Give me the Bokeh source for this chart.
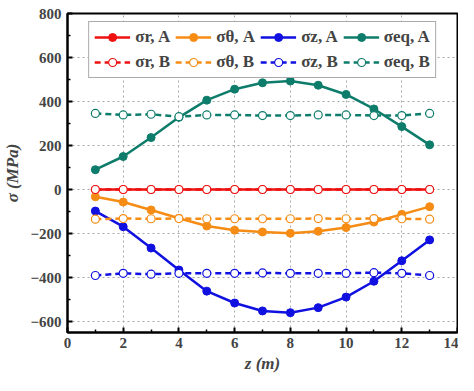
from bokeh.plotting import figure
from bokeh.models import Legend, LegendItem, FixedTicker, Range1d
from bokeh.embed import file_html
from bokeh.resources import INLINE

z = [1, 2, 3, 4, 5, 6, 7, 8, 9, 10, 11, 12, 13]
sr_A = [0, 0, 0, 0, 0, 0, 0, 0, 0, 0, 0, 0, 0]
st_A = [-33, -57, -93, -131, -166, -185, -193, -199, -190, -173, -148, -113, -78]
sz_A = [-98, -169, -266, -366, -462, -516, -552, -560, -537, -489, -417, -324, -229]
seq_A = [90, 150, 236, 328, 406, 456, 485, 493, 474, 432, 366, 286, 203]
sr_B = [0, 0, 0, 0, 0, 0, 0, 0, 0, 0, 0, 0, 0]
st_B = [-135, -132, -133, -132, -133, -133, -133, -133, -132, -133, -132, -133, -135]
sz_B = [-391, -381, -385, -381, -381, -381, -379, -381, -381, -381, -378, -381, -391]
seq_B = [346, 339, 342, 331, 339, 339, 336, 336, 339, 339, 336, 336, 346]

x_ticks = [0, 2, 4, 6, 8, 10, 12, 14]
y_ticks = [-600, -400, -200, 0, 200, 400, 600, 800]

colors = {"r": "#ee1111", "t": "#f68c14", "z": "#1010e0", "eq": "#0e7c6b"}
FONT = "Liberation Serif"

p = figure(width=458, height=375, x_range=Range1d(0, 14), y_range=Range1d(-650, 800),
           output_backend="svg", toolbar_location=None,
           min_border_left=56, min_border_right=1, min_border_top=13, min_border_bottom=40)

p.outline_line_color = "black"
p.outline_line_width = 2
p.background_fill_color = "white"
p.border_fill_color = "white"

for ax, ticks in ((p.xaxis[0], x_ticks), (p.yaxis[0], y_ticks)):
    ax.ticker = FixedTicker(ticks=ticks, minor_ticks=[t + (ticks[1] - ticks[0]) / 2 for t in ticks[:-1]])
    ax.axis_line_width = 2
    ax.axis_line_color = "black"
    ax.major_tick_in = 5
    ax.major_tick_out = 0
    ax.minor_tick_in = 3
    ax.minor_tick_out = 0
    ax.major_tick_line_width = 2
    ax.minor_tick_line_width = 1.5
    ax.major_label_text_font = FONT
    ax.major_label_text_font_style = "bold"
    ax.major_label_text_font_size = "15px"
    ax.axis_label_text_font = FONT
    ax.axis_label_text_font_size = "17px"
    ax.axis_label_text_font_style = "bold italic"

p.xaxis[0].axis_label = "z (m)"
p.yaxis[0].axis_label = "σ (MPa)"
p.xaxis[0].major_label_standoff = 5
p.xaxis[0].axis_label_standoff = 3
p.yaxis[0].major_label_standoff = 6
p.yaxis[0].axis_label_standoff = 5

p.xgrid.ticker = FixedTicker(ticks=x_ticks)
p.ygrid.ticker = FixedTicker(ticks=y_ticks)
for g in (p.xgrid[0], p.ygrid[0]):
    g.grid_line_color = "#a8a8a8"
    g.grid_line_dash = "2 3"
    g.grid_line_width = 1

series = [("r", "σr", sr_A, sr_B), ("t", "σθ", st_A, st_B), ("z", "σz", sz_A, sz_B), ("eq", "σeq", seq_A, seq_B)]
itemsA, itemsB = [], []
for key, lab, a, b in series:
    c = colors[key]
    la = p.line(z, a, line_color=c, line_width=2.5)
    ma = p.scatter(z, a, size=8, marker="circle", fill_color=c, line_color=c)
    itemsA.append(LegendItem(label=f"{lab}, A", renderers=[la, ma]))
for key, lab, a, b in series:
    c = colors[key]
    lb = p.line(z, b, line_color=c, line_width=2.5, line_dash="6 4")
    mb = p.scatter(z, b, size=8, marker="circle", fill_color="white", line_color=c, line_width=1.2)
    itemsB.append(LegendItem(label=f"{lab}, B", renderers=[lb, mb]))

legend = Legend(items=itemsA + itemsB, location="top_center", orientation="horizontal", ncols=4,
                label_text_font=FONT, label_text_font_style="bold", label_text_font_size="17px",
                border_line_color="#555555", border_line_width=1.2, background_fill_alpha=1,
                glyph_width=36, glyph_height=20, label_height=20, label_standoff=5, spacing=5,
                padding=5, margin=8)
p.add_layout(legend, "center")

open("out.html", "w").write(file_html(p, INLINE))
